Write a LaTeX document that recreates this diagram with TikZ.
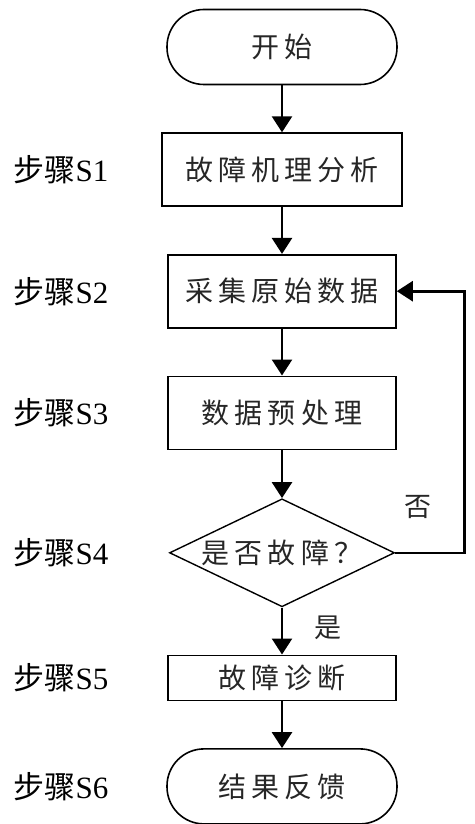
\documentclass[tikz,border=0pt]{standalone}
\usepackage{fontspec}
\setmainfont{Liberation Serif}
\newfontfamily\cjk{Noto Sans CJK SC}
\newfontfamily\cjkbox[LetterSpace=18]{Noto Sans CJK SC}
\usetikzlibrary{shapes.geometric, positioning, arrows.meta}
\tikzset{>={Triangle[length=16pt,width=20pt]},
node distance=47pt,
proc/.style={draw, line width=1.6pt, minimum width=228pt, minimum height=73pt,
  font=\cjkbox\fontsize{28}{32}\selectfont, text=black!85},
term/.style={proc, rounded corners=37pt, minimum width=230pt, minimum height=75pt},
decide/.style={draw, diamond, line width=1.4pt, shape aspect=2.08, inner sep=0pt,
  minimum width=225pt, minimum height=108pt,
  font=\cjkbox\fontsize{28}{32}\selectfont, text=black!85},
steplabel/.style={anchor=west, font=\fontsize{31}{34}\selectfont},
answer/.style={font=\cjk\fontsize{27}{30}\selectfont, text=black!85},
flow/.style={->, line width=2.6pt}}

\begin{document}
\begin{tikzpicture}[x=1pt,y=-1pt]
\useasboundingbox (0,0) rectangle (474,824);
\node[term] (start) at (282,47) {开始};
\node[proc, below=of start, minimum width=240pt] (s1) {故障机理分析};
\node[proc, below=of s1] (s2) {采集原始数据};
\node[proc, below=of s2] (s3) {数据预处理};
\node[decide, below=48pt of s3] (s4) {是否故障？};
\node[proc, below=of s4, minimum height=45pt] (s5) {故障诊断};
\node[term, below=of s5] (s6) {结果反馈};
\coordinate[right=69pt of s4.east] (back);
% step labels
\coordinate (lx) at (10,0);
\node[steplabel] (l1) at (s1 -| lx) {{\cjk 步骤}S1};
\node[steplabel] (l2) at (s2 -| lx) {{\cjk 步骤}S2};
\node[steplabel] (l3) at (s3 -| lx) {{\cjk 步骤}S3};
\node[steplabel] (l4) at (s4 -| lx) {{\cjk 步骤}S4};
\node[steplabel] (l5) at (s5 -| lx) {{\cjk 步骤}S5};
\node[steplabel] (l6) at (s6 -| lx) {{\cjk 步骤}S6};
\node[answer] (no) at (418,507) {否};
\node[answer] (yes) at (328,628) {是};
\draw[flow] (start) -- (s1);
\draw[flow] (s1) -- (s2);
\draw[flow] (s2) -- (s3);
\draw[flow] (s3) -- (s4);
\draw[flow] (s4) -- (s5);
\draw[flow] (s5) -- (s6);
\draw[flow] (s4.east) -- (back) |- (s2.east);
\end{tikzpicture}
\end{document}
